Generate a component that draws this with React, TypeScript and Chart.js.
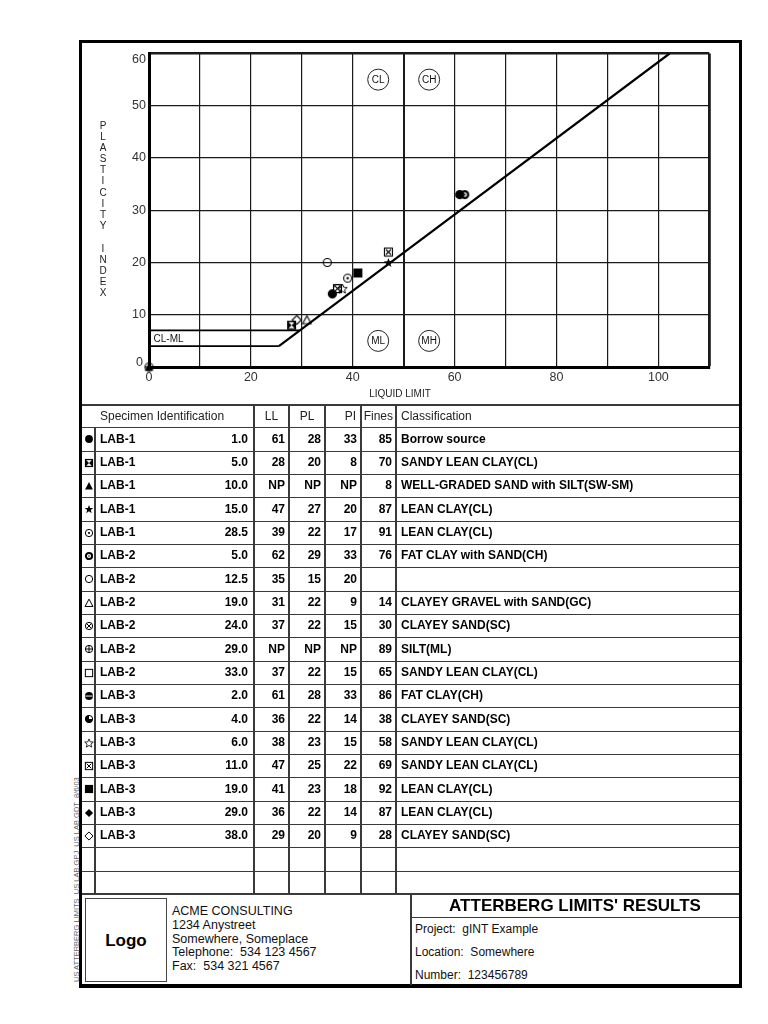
import React, { useEffect, useMemo, useRef } from 'react';
import { Chart, registerables } from 'chart.js';

Chart.register(...registerables);

const FONT = '"Liberation Sans", Arial, Helvetica, sans-serif';

// ---------- data ----------
const specimenIds = ['LAB-1', 'LAB-1', 'LAB-1', 'LAB-1', 'LAB-1', 'LAB-2', 'LAB-2', 'LAB-2', 'LAB-2', 'LAB-2', 'LAB-2', 'LAB-3', 'LAB-3', 'LAB-3', 'LAB-3', 'LAB-3', 'LAB-3', 'LAB-3'];
const depths = ['1.0', '5.0', '10.0', '15.0', '28.5', '5.0', '12.5', '19.0', '24.0', '29.0', '33.0', '2.0', '4.0', '6.0', '11.0', '19.0', '29.0', '38.0'];
const liquidLimits = [61, 28, null, 47, 39, 62, 35, 31, 37, null, 37, 61, 36, 38, 47, 41, 36, 29];
const plasticLimits = [28, 20, null, 27, 22, 29, 15, 22, 22, null, 22, 28, 22, 23, 25, 23, 22, 20];
const plasticityIndex = [33, 8, null, 20, 17, 33, 20, 9, 15, null, 15, 33, 14, 15, 22, 18, 14, 9];
const fines = [85, 70, 8, 87, 91, 76, null, 14, 30, 89, 65, 86, 38, 58, 69, 92, 87, 28];
const classifications = [
  'Borrow source', 'SANDY LEAN CLAY(CL)', 'WELL-GRADED SAND with SILT(SW-SM)', 'LEAN CLAY(CL)', 'LEAN CLAY(CL)',
  'FAT CLAY with SAND(CH)', '', 'CLAYEY GRAVEL with SAND(GC)', 'CLAYEY SAND(SC)', 'SILT(ML)', 'SANDY LEAN CLAY(CL)',
  'FAT CLAY(CH)', 'CLAYEY SAND(SC)', 'SANDY LEAN CLAY(CL)', 'SANDY LEAN CLAY(CL)', 'LEAN CLAY(CL)', 'LEAN CLAY(CL)', 'CLAYEY SAND(SC)',
];
const markerKinds = [
  'filledCircle', 'hourglassSquare', 'filledTriangle', 'filledStar', 'dotCircle', 'ringCircle', 'openCircle',
  'openTriangle', 'xCircle', 'plusCircle', 'openSquare', 'thetaCircle', 'quarterCircle', 'openStar', 'xSquare',
  'filledSquare', 'filledDiamond', 'openDiamond',
];
const tableHeaders = ['Specimen Identification', 'LL', 'PL', 'PI', 'Fines', 'Classification'];

const xTickLabels = [0, 20, 40, 60, 80, 100];
const X_MIN = 0, X_MAX = 110, Y_MIN = 0, Y_MAX = 60, GRID_STEP = 10;

// A-line and CL-ML band
const aLineLL = [25.5, 102.2];
const aLinePI = [4, 60];
const clmlUpperLL = [0, 29.6];
const clmlUpperPI = [7, 7];
const clmlLowerLL = [0, 25.5];
const clmlLowerPI = [4, 4];

const zoneLabels = ['CL', 'CH', 'ML', 'MH'];
const zoneLL = [45, 55, 45, 55];
const zonePI = [55, 55, 5, 5];
const clmlLabel = 'CL-ML';
const clmlLabelLL = 0.9;
const clmlLabelPI = 5.4;

const yTitle = 'PLASTICITY INDEX';
const xTitle = 'LIQUID LIMIT';
const companyLines = ['ACME CONSULTING', '1234 Anystreet', 'Somewhere, Someplace', 'Telephone:  534 123 4567', 'Fax:  534 321 4567'];
const reportTitle = "ATTERBERG LIMITS' RESULTS";
const projectLines = ['Project:  gINT Example', 'Location:  Somewhere', 'Number:  123456789'];
const sideText = 'US ATTERBERG LIMITS  US LAB.GPJ  US LAB.GDT  8/6/03';

// ---------- markers ----------
function drawMarker(ctx: CanvasRenderingContext2D, kind: string, s: number) {
  const k = s / 11;
  ctx.save();
  ctx.scale(k, k);
  const c = 5.5;
  ctx.strokeStyle = '#000';
  ctx.fillStyle = '#000';
  ctx.lineWidth = 1.1;
  const circle = (r: number) => { ctx.beginPath(); ctx.arc(c, c, r, 0, Math.PI * 2); };
  const star = (ro: number, ri: number) => {
    ctx.beginPath();
    for (let j = 0; j < 10; j++) {
      const r = j % 2 ? ri : ro;
      const a = -Math.PI / 2 + (j * Math.PI) / 5;
      const px = c + r * Math.cos(a), py = c + 0.5 + r * Math.sin(a);
      if (j) ctx.lineTo(px, py); else ctx.moveTo(px, py);
    }
    ctx.closePath();
  };
  const tri = () => { ctx.beginPath(); ctx.moveTo(c, 1.2); ctx.lineTo(9.8, 9.3); ctx.lineTo(1.2, 9.3); ctx.closePath(); };
  const dia = () => { ctx.beginPath(); ctx.moveTo(c, 1); ctx.lineTo(10, c); ctx.lineTo(c, 10); ctx.lineTo(1, c); ctx.closePath(); };
  switch (kind) {
    case 'filledCircle': circle(4.3); ctx.fill(); break;
    case 'hourglassSquare':
      ctx.lineWidth = 1.4; ctx.strokeRect(1.7, 1.7, 7.6, 7.6);
      ctx.beginPath(); ctx.moveTo(1.7, 1.7); ctx.lineTo(c, c); ctx.lineTo(1.7, 9.3); ctx.closePath(); ctx.fill();
      ctx.beginPath(); ctx.moveTo(9.3, 1.7); ctx.lineTo(c, c); ctx.lineTo(9.3, 9.3); ctx.closePath(); ctx.fill();
      break;
    case 'filledTriangle': tri(); ctx.fill(); break;
    case 'filledStar': star(5, 2.1); ctx.fill(); break;
    case 'dotCircle': circle(4); ctx.stroke(); circle(1.2); ctx.fill(); break;
    case 'ringCircle': ctx.lineWidth = 2.2; circle(3.4); ctx.stroke(); circle(0.9); ctx.fill(); break;
    case 'openCircle': circle(4); ctx.stroke(); break;
    case 'openTriangle': tri(); ctx.stroke(); break;
    case 'xCircle':
      circle(4); ctx.stroke();
      ctx.beginPath(); ctx.moveTo(2.7, 2.7); ctx.lineTo(8.3, 8.3); ctx.moveTo(8.3, 2.7); ctx.lineTo(2.7, 8.3); ctx.stroke();
      break;
    case 'plusCircle':
      circle(4); ctx.stroke();
      ctx.beginPath(); ctx.moveTo(1.5, c); ctx.lineTo(9.5, c); ctx.moveTo(c, 1.5); ctx.lineTo(c, 9.5); ctx.stroke();
      break;
    case 'openSquare': ctx.strokeRect(1.5, 1.5, 8, 8); break;
    case 'thetaCircle':
      circle(4.4); ctx.fill();
      ctx.fillStyle = '#fff'; ctx.fillRect(1.5, 5, 8, 1.1);
      break;
    case 'quarterCircle':
      circle(4); ctx.stroke();
      ctx.beginPath(); ctx.moveTo(c, c); ctx.arc(c, c, 4, Math.PI, Math.PI * 1.5); ctx.closePath(); ctx.fill();
      ctx.beginPath(); ctx.moveTo(c, c); ctx.arc(c, c, 4, 0, Math.PI * 0.5); ctx.closePath(); ctx.fill();
      ctx.beginPath(); ctx.moveTo(c, c); ctx.arc(c, c, 4, Math.PI * 0.5, Math.PI); ctx.closePath(); ctx.fill();
      break;
    case 'openStar': ctx.lineWidth = 0.9; star(5, 2.2); ctx.stroke(); break;
    case 'xSquare':
      ctx.strokeRect(1.5, 1.5, 8, 8);
      ctx.beginPath(); ctx.moveTo(3, 3); ctx.lineTo(8, 8); ctx.moveTo(8, 3); ctx.lineTo(3, 8); ctx.stroke();
      break;
    case 'filledSquare': ctx.fillRect(1, 1, 9, 9); break;
    case 'filledDiamond': dia(); ctx.fill(); break;
    case 'openDiamond': dia(); ctx.stroke(); break;
  }
  ctx.restore();
}

function makeMarker(kind: string, s: number) {
  const cv = document.createElement('canvas');
  cv.width = s;
  cv.height = s;
  const ctx = cv.getContext('2d');
  if (ctx) drawMarker(ctx, kind, s);
  return cv;
}

// ---------- layout constants ----------
const CANVAS_LEFT = 82, CANVAS_TOP = 43, CANVAS_W = 657, CANVAS_H = 361;
const TABLE_TOP = 404.5, ROW_H = 23.33, TABLE_ROWS = 21; // header + 18 + 2 blank
const COLS = [82, 95, 254, 289, 325, 361, 396, 739];
const FOOT_TOP = TABLE_TOP + ROW_H * TABLE_ROWS;
const LINE = '#3a3a3a';

const zonePlugin = {
  id: 'zones',
  beforeDraw(chart: any) {
    try {
      const ys = chart.scales.y;
      const items = ys.getLabelItems();
      items.forEach((it: any) => {
        const t = it.options && it.options.translation;
        if (!t) return;
        if (it.label === String(Y_MAX)) it.options.translation = [t[0], t[1] + 6];
        if (it.label === String(Y_MIN)) it.options.translation = [t[0] - 3, t[1] - 4];
      });
    } catch (e) { /* ignore */ }
  },
  beforeDatasetsDraw(chart: any) {
    const { ctx } = chart;
    const x = chart.scales.x, y = chart.scales.y;
    ctx.save();
    ctx.font = `10px ${FONT}`;
    ctx.textBaseline = 'middle';
    zoneLabels.forEach((t, i) => {
      const px = x.getPixelForValue(zoneLL[i]);
      const py = y.getPixelForValue(zonePI[i]);
      ctx.beginPath();
      ctx.arc(px, py, 10.5, 0, Math.PI * 2);
      ctx.lineWidth = 1;
      ctx.strokeStyle = '#222';
      ctx.stroke();
      ctx.fillStyle = '#111';
      ctx.textAlign = 'center';
      ctx.fillText(t, px, py + 0.5);
    });
    ctx.textAlign = 'left';
    ctx.fillText(clmlLabel, x.getPixelForValue(clmlLabelLL), y.getPixelForValue(clmlLabelPI));
    ctx.restore();
  },
};

function AtterbergChart() {
  const ref = useRef<HTMLCanvasElement>(null);
  useEffect(() => {
    const canvas = ref.current;
    if (!canvas) return;
    const toPts = (xs: number[], ys: number[]) => xs.map((v, k) => ({ x: v, y: ys[k] }));
    const lineDs = (xs: number[], ys: number[], w: number) => ({
      data: toPts(xs, ys), showLine: true, borderColor: '#000', borderWidth: w, pointRadius: 0, fill: false, order: 5,
    });
    const pointDs = specimenIds.map((id, i) => ({
      label: `${id} ${depths[i]}`,
      data: [{ x: liquidLimits[i] ?? 0, y: plasticityIndex[i] ?? 0 }],
      pointStyle: makeMarker(markerKinds[i], 11),
      pointRadius: 5,
      showLine: false,
      clip: false,
      order: 1,
    }));
    const chart = new Chart(canvas, {
      type: 'scatter',
      data: {
        datasets: [
          lineDs(aLineLL, aLinePI, 2.2),
          lineDs(clmlUpperLL, clmlUpperPI, 1.8),
          lineDs(clmlLowerLL, clmlLowerPI, 1.6),
          ...pointDs,
        ] as any,
      },
      options: {
        animation: false,
        responsive: false,
        devicePixelRatio: 1,
        layout: { padding: { top: 9.7, right: 29.7, left: 0, bottom: 0 } },
        plugins: { legend: { display: false }, tooltip: { enabled: false } },
        scales: {
          x: {
            type: 'linear', min: X_MIN, max: X_MAX,
            afterFit: (s: any) => { s.height = 37; },
            ticks: {
              stepSize: GRID_STEP, autoSkip: false, maxRotation: 0, padding: 3,
              color: '#333', font: { family: FONT, size: 12.5 },
              callback: (v: any) => (xTickLabels.includes(Number(v)) ? String(v) : ''),
            },
            grid: {
              drawTicks: false, color: '#1a1a1a',
              lineWidth: (c: any) => (c.tick && c.tick.value === 50 ? 2 : c.tick && c.tick.value === X_MAX ? 2.8 : 1.2),
            },
            border: { display: true, width: 3, color: '#000' },
          },
          y: {
            type: 'linear', min: Y_MIN, max: Y_MAX,
            afterFit: (s: any) => { s.width = 67; },
            ticks: { stepSize: GRID_STEP, padding: 3, color: '#333', font: { family: FONT, size: 12.5 } },
            grid: {
              drawTicks: false, color: '#1a1a1a',
              lineWidth: (c: any) => (c.tick && c.tick.value === Y_MAX ? 2.5 : 1.2),
            },
            border: { display: true, width: 3, color: '#000' },
          },
        },
      } as any,
      plugins: [zonePlugin],
    });
    return () => chart.destroy();
  }, []);
  return (
    <canvas
      ref={ref}
      width={CANVAS_W}
      height={CANVAS_H}
      style={{ position: 'absolute', left: CANVAS_LEFT, top: CANVAS_TOP, width: CANVAS_W, height: CANVAS_H }}
    />
  );
}

const abs = (o: React.CSSProperties): React.CSSProperties => ({ position: 'absolute', ...o });
const HLine = ({ x1, x2, y, w = 1.2, c = LINE }: any) => <div style={abs({ left: x1, top: y - w / 2, width: x2 - x1, height: w, background: c })} />;
const VLine = ({ x, y1, y2, w = 1.2, c = LINE }: any) => <div style={abs({ left: x - w / 2, top: y1, width: w, height: y2 - y1, background: c })} />;

function Cell({ x1, x2, row, text, align, bold, pad = 5 }: any) {
  const top = TABLE_TOP + row * ROW_H;
  return (
    <div
      style={abs({
        left: x1, top, width: x2 - x1, height: ROW_H, lineHeight: `${ROW_H}px`, boxSizing: 'border-box',
        paddingLeft: align === 'left' ? pad : 0, paddingRight: align === 'right' ? pad : 0,
        textAlign: align, fontWeight: bold ? 'bold' : 'normal', fontSize: 12, whiteSpace: 'nowrap',
        color: bold ? '#000' : '#222',
      })}
    >
      {text}
    </div>
  );
}

export default function App() {
  const icons = useMemo(() => markerKinds.map((k) => makeMarker(k, 10).toDataURL()), []);
  const fmt = (v: number | null) => (v === null ? 'NP' : String(v));

  const hLines = [];
  for (let i = 0; i <= TABLE_ROWS; i++) {
    const y = TABLE_TOP + i * ROW_H;
    hLines.push(<HLine key={'h' + i} x1={82} x2={739} y={y} w={i === 0 || i === TABLE_ROWS ? 2 : 1.2} />);
  }
  const vLines = [
    <VLine key="v1" x={COLS[1]} y1={TABLE_TOP + ROW_H} y2={FOOT_TOP} />,
    ...COLS.slice(2, 7).map((x, i) => <VLine key={'v' + (i + 2)} x={x} y1={TABLE_TOP} y2={FOOT_TOP} />),
  ];

  const cells: any[] = [];
  // header
  cells.push(<Cell key="hh0" x1={COLS[0]} x2={COLS[2]} row={0} text={tableHeaders[0]} align="left" pad={18} />);
  cells.push(<Cell key="hh1" x1={COLS[2]} x2={COLS[3]} row={0} text={tableHeaders[1]} align="center" />);
  cells.push(<Cell key="hh2" x1={COLS[3]} x2={COLS[4]} row={0} text={tableHeaders[2]} align="center" />);
  cells.push(<Cell key="hh3" x1={COLS[4]} x2={COLS[5]} row={0} text={tableHeaders[3]} align="right" pad={5} />);
  cells.push(<Cell key="hh4" x1={COLS[5] - 4} x2={COLS[6]} row={0} text={tableHeaders[4]} align="right" pad={3} />);
  cells.push(<Cell key="hh5" x1={COLS[6]} x2={COLS[7]} row={0} text={tableHeaders[5]} align="left" />);

  specimenIds.forEach((id, i) => {
    const r = i + 1;
    const cy = TABLE_TOP + r * ROW_H + ROW_H / 2;
    cells.push(<img key={'ic' + i} src={icons[i]} width={10} height={10} style={abs({ left: 83.5, top: cy - 5 })} />);
    cells.push(<Cell key={'id' + i} x1={COLS[1]} x2={COLS[2]} row={r} text={id} align="left" bold />);
    cells.push(<Cell key={'dp' + i} x1={COLS[1]} x2={COLS[2]} row={r} text={depths[i]} align="right" bold pad={6} />);
    cells.push(<Cell key={'ll' + i} x1={COLS[2]} x2={COLS[3]} row={r} text={fmt(liquidLimits[i])} align="right" bold pad={4} />);
    cells.push(<Cell key={'pl' + i} x1={COLS[3]} x2={COLS[4]} row={r} text={fmt(plasticLimits[i])} align="right" bold pad={4} />);
    cells.push(<Cell key={'pi' + i} x1={COLS[4]} x2={COLS[5]} row={r} text={fmt(plasticityIndex[i])} align="right" bold pad={4} />);
    cells.push(<Cell key={'fi' + i} x1={COLS[5]} x2={COLS[6]} row={r} text={fines[i] === null ? '' : String(fines[i])} align="right" bold pad={4} />);
    cells.push(<Cell key={'cl' + i} x1={COLS[6]} x2={COLS[7]} row={r} text={classifications[i]} align="left" bold />);
  });

  return (
    <div style={abs({ left: 0, top: 0, width: 768, height: 1024, background: '#fff', fontFamily: FONT, color: '#111', overflow: 'hidden' })}>
      {/* outer frame */}
      <div style={abs({ left: 79, top: 40, width: 663, height: 948, border: '3px solid #000', borderBottomWidth: 4, boxSizing: 'border-box' })} />

      <AtterbergChart />

      {/* y-axis title: stacked letters */}
      <div style={abs({ left: 96, top: 119.5, width: 14, textAlign: 'center', fontSize: 10, lineHeight: '11.2px', color: '#222' })}>
        {yTitle.split('').map((ch, i) => (
          <div key={i} style={{ height: 11.2 }}>{ch === ' ' ? '\u00a0' : ch}</div>
        ))}
      </div>
      {/* x-axis title */}
      <div style={abs({ left: 340, top: 387, width: 120, textAlign: 'center', fontSize: 10, lineHeight: '14px', color: '#222' })}>{xTitle}</div>

      {/* table */}
      {hLines}
      {vLines}
      {cells}

      {/* footer */}
      <VLine x={411} y1={FOOT_TOP} y2={985} w={1.4} />
      <HLine x1={411} x2={739} y={917.5} w={1.6} />
      <div style={abs({ left: 85, top: 898, width: 82, height: 84, border: '1.3px solid #444', boxSizing: 'border-box' })} />
      <div style={abs({ left: 85, top: 930, width: 82, textAlign: 'center', fontSize: 17, fontWeight: 'bold', lineHeight: '22px', color: '#000' })}>Logo</div>
      <div style={abs({ left: 172, top: 905, fontSize: 12.5, lineHeight: '13.8px', color: '#111', whiteSpace: 'pre' })}>
        {companyLines.map((t, i) => <div key={i}>{t}</div>)}
      </div>
      <div style={abs({ left: 411, top: 894, width: 328, height: 23, lineHeight: '23px', textAlign: 'center', fontSize: 17, fontWeight: 'bold', color: '#000', whiteSpace: 'nowrap' })}>{reportTitle}</div>
      {projectLines.map((t, i) => (
        <div key={i} style={abs({ left: 415, top: 921 + i * 23, fontSize: 12, lineHeight: '16px', color: '#111', whiteSpace: 'pre' })}>{t}</div>
      ))}

      {/* rotated side text */}
      <div style={abs({ left: 72, top: 982, fontSize: 7.5, lineHeight: '9px', color: '#666', whiteSpace: 'pre', transform: 'rotate(-90deg)', transformOrigin: 'left top' })}>{sideText}</div>
    </div>
  );
}
